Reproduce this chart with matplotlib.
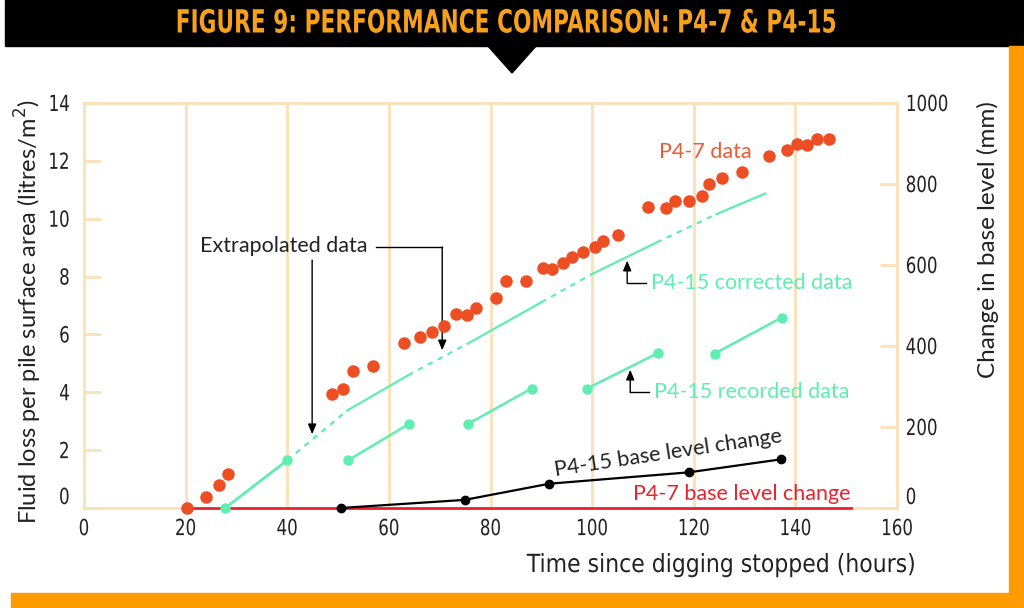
import matplotlib
matplotlib.use("Agg")
import matplotlib.pyplot as plt
from matplotlib import font_manager
from matplotlib.patches import Rectangle, Polygon
from matplotlib.patheffects import AbstractPathEffect
from matplotlib.transforms import Affine2D

# P4-7 measured fluid loss (litres/m2) against hours since digging stopped
p47_t = [20.2, 24.0, 26.6, 28.3, 48.9, 50.9, 52.9, 56.9, 62.9, 66.1, 68.5, 70.8,
         73.3, 75.3, 77.2, 81.0, 83.1, 87.0, 90.3, 92.2, 94.2, 96.1, 98.3, 100.5,
         102.2, 105.1, 111.0, 114.6, 116.3, 119.1, 121.7, 123.0, 125.5, 129.4,
         134.9, 138.4, 140.3, 142.3, 144.2, 146.7]
p47_v = [0.0, 0.39, 0.79, 1.18, 3.95, 4.13, 4.72, 4.92, 5.71, 5.90, 6.08, 6.30,
         6.69, 6.66, 6.90, 7.27, 7.86, 7.85, 8.28, 8.25, 8.47, 8.68, 8.85, 9.02,
         9.23, 9.44, 10.40, 10.37, 10.61, 10.60, 10.79, 11.20, 11.41, 11.60,
         12.17, 12.36, 12.59, 12.56, 12.77, 12.75]

# P4-15 recorded data, one list per recording period
rec_t = [[27.8, 40.0], [52.0, 63.9], [75.5, 88.1], [99.0, 113.0], [124.1, 137.3]]
rec_v = [[0.0, 1.65], [1.65, 2.90], [2.90, 4.13], [4.13, 5.36], [5.34, 6.58]]

# P4-15 corrected data (extrapolated pieces flagged)
cor_t = [27.8, 40.0, 51.8, 63.8, 75.5, 90.0, 100.0, 112.7, 124.5, 134.1]
cor_v = [0.0, 1.65, 3.37, 4.59, 5.68, 7.11, 8.09, 9.18, 10.16, 10.87]
cor_extrap = [False, True, False, True, False, True, False, True, False]

# base level change (mm)
base15_t = [50.5, 74.9, 91.6, 119.0, 137.1]
base15_mm = [0, 20, 60, 88, 120]
base7_t = [20.0, 151.0]
base7_mm = [0, 0]

x_ticks = [0, 20, 40, 60, 80, 100, 120, 140, 160]
y_ticks = [0, 2, 4, 6, 8, 10, 12, 14]
mm_ticks = [0, 200, 400, 600, 800, 1000]

names = {f.name for f in font_manager.fontManager.ttflist}
ROUND = "Lato" if "Lato" in names else "DejaVu Sans"
NARROW = "DejaVu Sans"

ORANGE_DOT = "#EE4E24"
TEAL = "#5FEDB2"
RED = "#E8232E"
PEACH = "#FBE1B6"
GOLD = "#FF9B00"
INK = "#222222"


class Squeeze(AbstractPathEffect):
    # narrow the glyphs horizontally, keeping one edge (or the middle) fixed
    def __init__(self, sx, anchor="center"):
        super().__init__()
        self.sx = sx
        self.anchor = anchor

    def draw_path(self, renderer, gc, tpath, affine, rgbFace=None):
        bb = tpath.get_extents(affine)
        cx = {"left": bb.x0, "right": bb.x1}.get(self.anchor, 0.5 * (bb.x0 + bb.x1))
        t = affine + Affine2D().translate(-cx, 0).scale(self.sx, 1).translate(cx, 0)
        renderer.draw_path(gc, tpath, t, rgbFace)


fig = plt.figure(figsize=(10.24, 6.08), dpi=100)
W, H = 1024.0, 608.0
ax = fig.add_axes([84 / W, 1 - 508 / H, (897 - 84) / W, (508 - 103) / H])
ax2 = ax.twinx()
ax.set_zorder(ax2.get_zorder() + 1)
ax.patch.set_visible(False)

ax.set_xlim(0, 160)
ax.set_ylim(0, 14)
ax2.set_ylim(0, 1000)

for s in ax.spines.values():
    s.set_visible(False)
for s in ax2.spines.values():
    s.set_color(PEACH)
    s.set_linewidth(2)
for x in x_ticks[1:-1]:
    ax2.axvline(x, color=PEACH, lw=2, zorder=1)

ax.set_xticks(x_ticks)
ax.set_yticks(y_ticks)
ax2.set_yticks(mm_ticks)
ax.tick_params(axis="x", length=0, pad=8, labelsize=16, labelcolor=INK)
ax.tick_params(axis="y", direction="in", length=12, width=2, color=PEACH,
               pad=10, labelsize=16, labelcolor=INK)
ax2.tick_params(axis="y", direction="in", length=12, width=2, color=PEACH,
                pad=6, labelsize=16, labelcolor=INK)
for lab in ax.get_xticklabels():
    lab.set_fontfamily(NARROW)
    lab.set_path_effects([Squeeze(0.75, "center")])
for lab in ax.get_yticklabels():
    lab.set_fontfamily(NARROW)
    lab.set_path_effects([Squeeze(0.75, "right")])
for lab in ax2.get_yticklabels():
    lab.set_fontfamily(NARROW)
    lab.set_path_effects([Squeeze(0.75, "left")])
# the zero labels sit just above the baseline, as in the original
ax.get_yticklabels()[0].set_verticalalignment("bottom")
ax2.get_yticklabels()[0].set_verticalalignment("bottom")

# base level lines (right axis)
ax2.plot(base7_t, base7_mm, color=RED, lw=2, zorder=3, clip_on=False)
ax2.plot(base15_t, base15_mm, "-o", color="black", lw=1.6, ms=6, zorder=4, clip_on=False)

# corrected P4-15 line
for i in range(len(cor_t) - 1):
    ls = (0, (2.5, 2.5)) if cor_extrap[i] else "-"
    ax.plot(cor_t[i:i + 2], cor_v[i:i + 2], color=TEAL, lw=1.6, linestyle=ls)

# recorded P4-15 segments
for st, sv in zip(rec_t, rec_v):
    ax.plot(st, sv, "-o", color=TEAL, lw=1.8, ms=6.5, clip_on=False)

# P4-7 data
ax.plot(p47_t, p47_v, "o", color=ORANGE_DOT, ms=8, linestyle="none", clip_on=False, zorder=5)

# annotations
afont = dict(family=ROUND, fontsize=15.5)
arrow = dict(arrowstyle="-|>,head_length=0.6,head_width=0.25", color="black", lw=1, shrinkA=0, shrinkB=0)
ax.text(22.8, 9.06, "Extrapolated data", color=INK, ha="left", va="center", **afont)
ax.annotate("", xy=(44.9, 2.55), xytext=(44.9, 8.57), arrowprops=arrow)
ax.plot([57.4, 70.5], [9.02, 9.02], color="black", lw=1)
ax.annotate("", xy=(70.5, 5.45), xytext=(70.5, 9.02), arrowprops=arrow)

ax.text(111.6, 7.78, "P4-15 corrected data", color=TEAL, ha="left", va="center", **afont)
ax.plot([110.6, 106.9], [7.78, 7.78], color="black", lw=1)
ax.annotate("", xy=(106.9, 8.55), xytext=(106.9, 7.78), arrowprops=arrow)

ax.text(112.2, 4.01, "P4-15 recorded data", color=TEAL, ha="left", va="center", **afont)
ax.plot([111.2, 107.5], [4.01, 4.01], color="black", lw=1)
ax.annotate("", xy=(107.5, 4.78), xytext=(107.5, 4.01), arrowprops=arrow)

ax.text(122.2, 12.3, "P4-7 data", color="#EE5A35", ha="center", va="center", **afont)
ax.text(115.0, 1.88, "P4-15 base level change", color=INK, ha="center", va="center",
        rotation=8.5, rotation_mode="anchor", **afont)
ax.text(129.5, 0.5, "P4-7 base level change", color=RED, ha="center", va="center", **afont)

# axis titles
fig.text(917 / W, 1 - 565 / H, "Time since digging stopped (hours)", ha="right", va="center",
         family=NARROW, fontsize=18, color=INK, path_effects=[Squeeze(0.88, "right")])
fig.text(28 / W, 1 - 312 / H, "Fluid loss per pile surface area (litres/m$^2$)", rotation=90,
         ha="center", va="center", family=ROUND, fontsize=17, color=INK)
fig.text(988 / W, 1 - 240 / H, "Change in base level (mm)", rotation=90,
         ha="center", va="center", family=ROUND, fontsize=17.5, color=INK)

# frame: banner, pointer and orange border
deco = fig.add_axes([0, 0, 1, 1], zorder=-5)
deco.set_xlim(0, W)
deco.set_ylim(H, 0)
deco.axis("off")
deco.add_patch(Rectangle((5, 0), W - 5, 46, color="black"))
deco.add_patch(Polygon([(487, 45), (537, 45), (512, 73)], closed=True, color="black"))
deco.add_patch(Rectangle((1009, 46), W - 1009, H - 46, color=GOLD))
deco.add_patch(Rectangle((11, 593), W - 11, H - 593, color=GOLD))
deco.text(507, 24, "FIGURE 9: PERFORMANCE COMPARISON: P4-7 & P4-15", color="#F7A01B",
          ha="center", va="center", family=NARROW, fontweight="bold", fontsize=23,
          path_effects=[Squeeze(0.68, "center")])

fig.savefig("out.png", dpi=100, facecolor="white")
